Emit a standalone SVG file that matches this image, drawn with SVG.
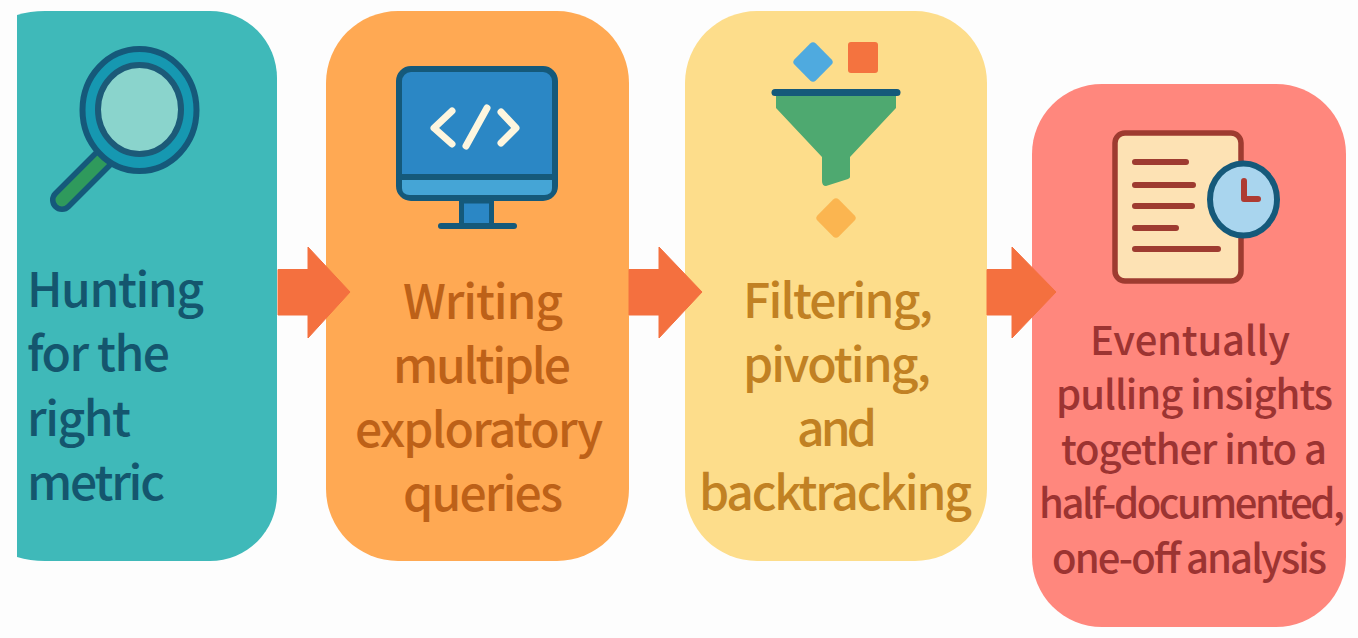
<svg xmlns="http://www.w3.org/2000/svg" width="1358" height="638" viewBox="0 0 1358 638">
<style>
text{font-family:"Noto Sans CJK SC","Noto Sans",sans-serif;font-weight:500;font-size:48px}
.t1{fill:#14566e}
.t2{fill:#bd6118}
.t3{fill:#c18123}
.t4{fill:#9c3432;font-size:40px}
.ar{fill:#f4703f;stroke:#f4703f;stroke-width:1;stroke-linejoin:round}
.nv{fill:none;stroke:#15597a;stroke-linecap:round;stroke-linejoin:round}
.ln{stroke:#9e3b30;stroke-width:6;stroke-linecap:round;fill:none}
</style>
<rect width="1358" height="638" fill="#fdfdfd"/>
<g id="node1">
<path d="M17 15Q30 11 45 11H210A67 67 0 0 1 277 78V494A67 67 0 0 1 210 561H45Q30 561 17 557Z" fill="#3fb9b9"/>
<path d="M62 200L106 156" stroke="#15597a" stroke-width="24" stroke-linecap="round"/>
<path d="M62 200L106 156" stroke="#2f9a5c" stroke-width="13" stroke-linecap="round"/>
<ellipse cx="139.500" cy="110" rx="57" ry="61" fill="#1698b1" stroke="#15597a" stroke-width="6"/>
<ellipse cx="139.500" cy="109.500" rx="41.500" ry="44.500" fill="#8ad4cc" stroke="#1c5a78" stroke-width="6"/>
<text class="t1" x="27" y="307" textLength="177">Hunting</text>
<text class="t1" x="27" y="371" textLength="143">for the</text>
<text class="t1" x="27" y="436" textLength="104">right</text>
<text class="t1" x="27" y="500" textLength="138">metric</text>
</g>
<g id="node2">
<rect x="326" y="11" width="303" height="550" rx="72" fill="#ffa953"/>
<rect x="399" y="69" width="156" height="129" rx="12" fill="#2b87c5" stroke="#15597a" stroke-width="6"/>
<path d="M402 180H552V188Q552 195 544 195H410Q402 195 402 188Z" fill="#45a5d6"/>
<path class="nv" d="M399 177H555" stroke-width="6"/>
<path d="M461.500 201H491.500V226H461.500Z" fill="#2b87c5" stroke="#15597a" stroke-width="5"/>
<path class="nv" d="M441 226H514" stroke-width="6"/>
<path d="M452 111L434 128L452 144M501 112L516 128L501 143M487 108L466 146" fill="none" stroke="#fdf6df" stroke-width="7" stroke-linecap="round" stroke-linejoin="round"/>
<text class="t2" x="403" y="319" textLength="160">Writing</text>
<text class="t2" x="393" y="383" textLength="178">multiple</text>
<text class="t2" x="355" y="447" textLength="248">exploratory</text>
<text class="t2" x="403" y="511" textLength="160">queries</text>
</g>
<g id="node3">
<rect x="685" y="11" width="302" height="550" rx="72" fill="#fddd8b"/>
<rect x="798" y="47" width="30" height="30" rx="4" transform="rotate(45 813 62)" fill="#4faadf"/>
<rect x="848" y="42" width="30" height="31" rx="3" fill="#f4733f"/>
<path d="M776 95H896V108L850 157V177Q850 178 848 179L826 186Q822 186 822 181V157L776 108Z" fill="#4ea970"/>
<path d="M775 92.500H897" stroke="#15597a" stroke-width="7" stroke-linecap="round"/>
<rect x="821" y="203" width="30" height="30" rx="4" transform="rotate(45 836 218)" fill="#fbb550"/>
<text class="t3" x="743" y="318" textLength="190">Filtering,</text>
<text class="t3" x="743" y="382" textLength="188">pivoting,</text>
<text class="t3" x="797" y="446" textLength="80">and</text>
<text class="t3" x="699" y="510" textLength="273">backtracking</text>
</g>
<g id="node4">
<rect x="1032" y="84" width="314" height="543" rx="70" fill="#ff877d"/>
<rect x="1115" y="133" width="126" height="148" rx="10" fill="#fde2b4" stroke="#9e3b30" stroke-width="5.500"/>
<path class="ln" d="M1135 162H1186M1135 185H1193M1135 206H1192M1135 228H1176M1135 249H1218"/>
<ellipse cx="1243.500" cy="199.500" rx="33.500" ry="36" fill="#a9d5ee" stroke="#15597a" stroke-width="6"/>
<path d="M1244 181V199H1258" fill="none" stroke="#ae3b32" stroke-width="6" stroke-linecap="round" stroke-linejoin="round"/>
<text class="t4" x="1090" y="355" textLength="200">Eventually</text>
<text class="t4" x="1056" y="409" textLength="277">pulling insights</text>
<text class="t4" x="1061" y="464" textLength="266">together into a</text>
<text class="t4" x="1039" y="518" textLength="306">half-documented,</text>
<text class="t4" x="1052" y="573" textLength="275">one-off analysis</text>
</g>
<g id="connectors">
<path class="ar" d="M278 269.500H308V247L350 292L308 338V315H278Z"/>
<path class="ar" d="M629 269.500H659V247L702 292L659 338V315H629Z"/>
<path class="ar" d="M987 269.500H1012V247L1056 292L1012 338V315H987Z"/>
</g>
</svg>
